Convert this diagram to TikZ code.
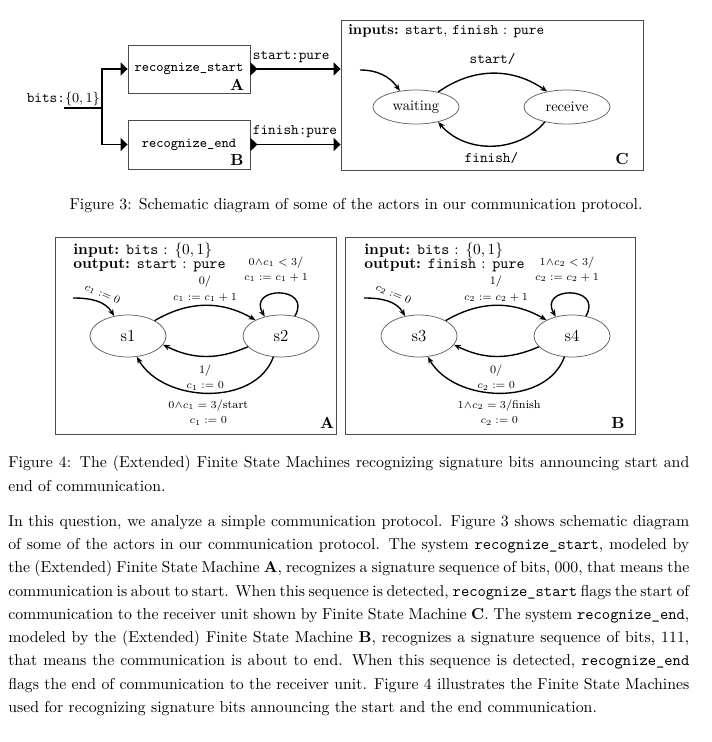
\documentclass[tikz,border=0pt]{standalone}
\usepackage{fontspec}
\usepackage{amsmath}
\usepackage{tikz}
\usetikzlibrary{arrows.meta, shapes.geometric}

\newdimen\pxu
\pxu=0.652pt

\tikzset{
  boxframe/.style={draw=black!70, line width=0.6pt, rectangle, inner sep=0pt},
  block/.style={boxframe, minimum width=122*\pxu, minimum height=48*\pxu, font=\fontsize{9}{11}\selectfont\ttfamily},
  wire/.style={line width=1.2pt},
  port/.style={wire, -{Triangle[length=4.5pt, width=8.5pt]}},
  outport/.style={wire, {Triangle[length=4.5pt, width=8.5pt, reversed]}-{Triangle[length=4.5pt, width=8.5pt]}},
  figtext/.style={font=\fontsize{9.5}{11}\selectfont},
  bigstate/.style={draw=black!60, line width=0.5pt, ellipse, minimum width=86*\pxu, minimum height=34*\pxu, inner sep=0pt, figtext},
  fsmstate/.style={draw=black!60, line width=0.5pt, ellipse, minimum width=76*\pxu, minimum height=42*\pxu, inner sep=0pt, font=\fontsize{11}{13}\selectfont},
  trans/.style={->, line width=0.9pt},
  lbl/.style={font=\fontsize{7.5}{10}\selectfont, inner sep=1pt, align=center},
  boxtag/.style={font=\fontsize{10.5}{12}\selectfont\bfseries, inner sep=0pt},
  iotext/.style={anchor=north west, align=left, inner sep=0pt, font=\fontsize{10}{9}\selectfont},
  bodytext/.style={anchor=north west, text width=681*\pxu, align=justify, inner sep=0pt},
}

\begin{document}
\begin{tikzpicture}[x=0.652pt, y=0.652pt, >={Stealth[length=4.5pt, width=3.6pt]}]

  \useasboundingbox (0,0) rectangle (712,-742);

  % Figure 3: schematic of the actors
  \coordinate (bitsin) at (64,-108);
  \coordinate (split) at (102,-108);
  \node[figtext, anchor=base east, inner sep=0pt] (bitslbl) at (100,-103) {\texttt{bits:}$\{0,1\}$};
  \node[block] (recstart) at (189,-69) {recognize\_start};
  \node[block, minimum height=49*\pxu] (recend) at (189,-144.5) {recognize\_end};
  \node[boxtag] (tagA3) at (237,-85) {A};
  \node[boxtag] (tagB3) at (237,-160) {B};

  \node[boxframe, minimum width=302*\pxu, minimum height=150*\pxu] (fsmC) at (492,-95) {};
  \node[figtext, anchor=base west, inner sep=0pt] (inC) at (348,-35) {\textbf{inputs:} \texttt{start}, \texttt{finish} : \texttt{pure}};
  \node[bigstate] (waiting) at (416,-107) {waiting};
  \node[bigstate] (receive) at (567,-107) {receive};
  \coordinate (initC) at (360,-70);
  \node[boxtag] (tagC) at (622,-159) {C};

  \draw[wire] (bitsin) -- (split);
  \draw[port] (split) |- (recstart.west);
  \draw[port] (split) |- (recend.west);
  \draw[outport] (recstart.east) -- (recstart.east -| fsmC.west)
    node[figtext, pos=0, anchor=south west, inner sep=1pt, yshift=2.5pt] {\texttt{start:pure}};
  \draw[outport] (recend.east) -- (recend.east -| fsmC.west)
    node[figtext, pos=0, anchor=south west, inner sep=1pt, yshift=2.5pt] {\texttt{finish:pure}};

  \draw[trans] (initC) to[out=0, in=125] (waiting.135);
  \draw[trans] (waiting.34) to[bend left=35]
    node[figtext, midway, above=4.5pt, inner sep=1pt] {\texttt{start/}} (receive.142);
  \draw[trans] (receive.214) to[bend left=50]
    node[figtext, midway, below=3pt, inner sep=1pt] {\texttt{finish/}} (waiting.326);

  \node[anchor=base, font=\fontsize{10.3}{12}\selectfont] (cap3) at (356,-209)
    {Figure 3: Schematic diagram of some of the actors in our communication protocol.};

  % Figure 4, machine A
  \node[boxframe, minimum width=281*\pxu, minimum height=197*\pxu] (fsmA) at (195.5,-335.5) {};
  \node[boxtag] (tagA) at (327,-423) {A};
  \node[iotext] (ioA) at (73,-242.5) {\textbf{input:} \texttt{bits} : $\{0,1\}$\\\textbf{output:} \texttt{start} : \texttt{pure}};
  \node[fsmstate] (s1) at (128,-336) {s1};
  \node[fsmstate] (s2) at (281,-336) {s2};
  \coordinate (initA) at (73,-298);
  \draw[trans] (initA) to[out=0, in=120] node[lbl, pos=0.55, above=1.5pt, sloped] {$c_1 := 0$} (s1.125);
  \draw[trans] (s1.30) to[bend left=30] node[lbl, midway, above=1pt] {0/\\$c_1 := c_1 + 1$} (s2.148);
  \draw[trans] (s2.55) to[out=60, in=120, looseness=3]
    node[lbl, midway, above=6pt, xshift=-2.5pt] {$0{\wedge}c_1 < 3$/\\$c_1 := c_1 + 1$} (s2.130);
  \draw[trans] (s2.198) to[bend left=25] node[lbl, midway, below=4pt] {1/\\$c_1 := 0$} (s1.346);
  \draw[trans] (s2.250) to[out=250, in=300]
    node[lbl, midway, below=3pt] {$0{\wedge}c_1 = 3$/start\\$c_1 := 0$} (s1.293);

  % Figure 4, machine B
  \node[boxframe, minimum width=290*\pxu, minimum height=197*\pxu] (fsmB) at (490,-335.5) {};
  \node[boxtag] (tagB) at (618,-423) {B};
  \begin{scope}[xshift=291*\pxu]
    \node[iotext] (ioB) at (73,-242.5) {\textbf{input:} \texttt{bits} : $\{0,1\}$\\\textbf{output:} \texttt{finish} : \texttt{pure}};
    \node[fsmstate] (s3) at (128,-336) {s3};
    \node[fsmstate] (s4) at (281,-336) {s4};
    \coordinate (initB) at (73,-298);
    \draw[trans] (initB) to[out=0, in=120] node[lbl, pos=0.55, above=1.5pt, sloped] {$c_2 := 0$} (s3.125);
    \draw[trans] (s3.30) to[bend left=30] node[lbl, midway, above=1pt] {1/\\$c_2 := c_2 + 1$} (s4.148);
    \draw[trans] (s4.55) to[out=60, in=120, looseness=3]
      node[lbl, midway, above=6pt, xshift=-2.5pt] {$1{\wedge}c_2 < 3$/\\$c_2 := c_2 + 1$} (s4.130);
    \draw[trans] (s4.198) to[bend left=25] node[lbl, midway, below=4pt] {0/\\$c_2 := 0$} (s3.346);
    \draw[trans] (s4.250) to[out=250, in=300]
      node[lbl, midway, below=3pt] {$1{\wedge}c_2 = 3$/finish\\$c_2 := 0$} (s3.293);
  \end{scope}

  % caption and text
  \node[bodytext, font=\fontsize{10.3}{15.6}\selectfont] (cap4) at (8,-455.5)
    {\noindent Figure 4: The (Extended) Finite State Machines recognizing signature bits announcing start and\linebreak
    end of communication.};
  \node[bodytext, font=\fontsize{10.3}{15.16}\selectfont] (para) at (8,-515)
    {\noindent In this question, we analyze a simple communication protocol. Figure 3 shows schematic diagram\linebreak
    of some of the actors in our communication protocol. The system \texttt{recognize\_start}, modeled by\linebreak
    the (Extended) Finite State Machine \textbf{A}, recognizes a signature sequence of bits, 000, that means the\linebreak
    communication is about to start. When this sequence is detected, \texttt{recognize\_start} flags the start of\linebreak
    communication to the receiver unit shown by Finite State Machine \textbf{C}. The system \texttt{recognize\_end},\linebreak
    modeled by the (Extended) Finite State Machine \textbf{B}, recognizes a signature sequence of bits, 111,\linebreak
    that means the communication is about to end. When this sequence is detected, \texttt{recognize\_end}\linebreak
    flags the end of communication to the receiver unit. Figure 4 illustrates the Finite State Machines\linebreak
    used for recognizing signature bits announcing the start and the end communication.};

\end{tikzpicture}
\end{document}
